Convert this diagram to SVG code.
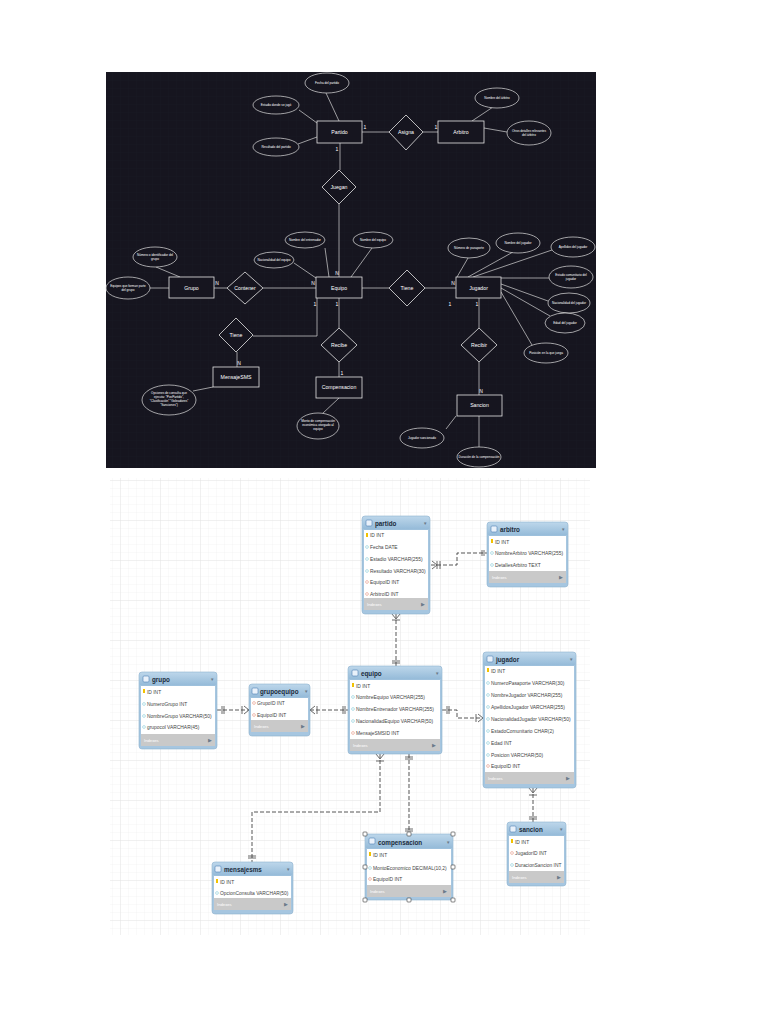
<svg xmlns="http://www.w3.org/2000/svg" width="768" height="1024" viewBox="0 0 768 1024">
<defs>
<pattern id="dg" width="8" height="8" patternUnits="userSpaceOnUse"><path d="M8 0H0V8" fill="none" stroke="#1d1c27" stroke-width="0.5"/></pattern>
<pattern id="lg" width="8" height="8" patternUnits="userSpaceOnUse"><path d="M8 0H0V8" fill="none" stroke="#ececec" stroke-width="0.5"/></pattern>
<pattern id="lgM" width="40" height="40" patternUnits="userSpaceOnUse"><path d="M40 0H0V40" fill="none" stroke="#d8d8d8" stroke-width="0.6"/></pattern>
<linearGradient id="hd" x1="0" y1="0" x2="0" y2="1"><stop offset="0" stop-color="#bcd6ea"/><stop offset="1" stop-color="#94bad8"/></linearGradient>
</defs>
<style>
text{font-family:"Liberation Sans",Arial,sans-serif}
.er rect.e{fill:#16151f;stroke:#e6e6e6;stroke-width:0.8}
.er polygon{fill:#16151f;stroke:#e6e6e6;stroke-width:0.8}
.er ellipse{fill:#16151f;stroke:#e0e0e0;stroke-width:0.7}
.et{fill:#fff;font-size:5.2px;text-anchor:middle}
.at{fill:#fff;font-size:3.1px;text-anchor:middle}
.card{fill:#fff;font-size:5px;text-anchor:middle}
.ln{stroke:#d6d6d6;stroke-width:0.7;fill:none}
.tb .fr{fill:#a6c6e0;stroke:#8fb1cf;stroke-width:0.6}
.tb .hdr{fill:url(#hd)}
.tb .bd{fill:#fff}
.tb .ft{fill:#c9c9c9}
.tn{font-size:6.3px;font-weight:bold;fill:#1a2a3a}
.rt{font-size:4.9px;fill:#444}
.ix{font-size:4.2px;fill:#fff}
.ic{fill:#e9f1fa;stroke:#4f7fb5;stroke-width:0.6}
.dd{fill:#6b7a89;font-size:4.5px}
.pk{fill:#f2c200}
.cy{fill:#fff;stroke:#6ec0d0;stroke-width:0.5}
.fk{fill:#fff;stroke:#e0806a;stroke-width:0.5}
.cn{stroke:#444;stroke-width:0.9;fill:none;stroke-dasharray:4 2}
.mk{stroke:#444;stroke-width:0.8;fill:none}
.hd2{fill:#fff;stroke:#333;stroke-width:0.6}
</style>

<!-- TOP ER DIAGRAM -->
<rect x="106" y="72" width="490" height="396" fill="#16151f"/>
<rect x="106" y="72" width="490" height="396" fill="url(#dg)"/>

<g id="er-lines">
<path class="ln" d="M362 132H389M423 132H438M340 143V170M339 204V277M214 288H227M263 288H316M150 288H169M362 288H389M425 288H456M339 298V328M339 362V377M317 298V336H253M237 352V367M479 298V328M479 362V395"/>
<path class="ln" d="M326 93L339 121M299 110L317 123M298 144L317 137M493 107L472 121M484 128L507 132M156 267L180 277M294 263L316 278M325 248L329 277M372 248L351 277M468 258L457 277M513 252L468 277M552 250L473 277M501 278H549M501 284L548 301M501 288L550 316M501 292L532 345M193 391L213 387M339 398L322 414M456 416L446 429M479 416V447"/>
</g>
<g id="er-cards">
<text class="card" x="365" y="129">1</text>
<text class="card" x="436" y="129">1</text>
<text class="card" x="337" y="151">1</text>
<text class="card" x="337" y="275">N</text>
<text class="card" x="217" y="285">N</text>
<text class="card" x="313" y="285">N</text>
<text class="card" x="315" y="306">1</text>
<text class="card" x="337" y="306">1</text>
<text class="card" x="239" y="365">N</text>
<text class="card" x="342" y="375">1</text>
<text class="card" x="453" y="285">N</text>
<text class="card" x="450" y="306">1</text>
<text class="card" x="477" y="306">1</text>
<text class="card" x="481" y="393">N</text>
</g>

<g class="er">
<g id="e-partido"><rect class="e" x="317" y="121" width="45" height="22"/><text class="et" x="339.5" y="134">Partido</text></g>
<g id="r-asigna"><polygon points="389,132 406,115 423,132 406,150"/><text class="et" x="406" y="134">Asigna</text></g>
<g id="e-arbitro"><rect class="e" x="438" y="121" width="46" height="22"/><text class="et" x="461" y="134">Arbitro</text></g>
<g id="r-juegan"><polygon points="322,187 339,170 356,187 339,204"/><text class="et" x="339" y="189">Juegan</text></g>
<g id="e-equipo"><rect class="e" x="316" y="277" width="46" height="21"/><text class="et" x="339" y="290">Equipo</text></g>
<g id="e-grupo"><rect class="e" x="169" y="277" width="45" height="21"/><text class="et" x="191.5" y="290">Grupo</text></g>
<g id="r-contener"><polygon points="227,288 245,272 263,288 245,304"/><text class="et" x="245" y="290">Contener</text></g>
<g id="r-tiene1"><polygon points="219,335 236,318 253,335 236,352"/><text class="et" x="236" y="337">Tiene</text></g>
<g id="e-mensaje"><rect class="e" x="213" y="367" width="46" height="20"/><text class="et" x="236" y="379">MensajeSMS</text></g>
<g id="r-recibe"><polygon points="321,345 339,328 357,345 339,362"/><text class="et" x="339" y="347">Recibe</text></g>
<g id="e-comp"><rect class="e" x="316" y="377" width="46" height="21"/><text class="et" x="339" y="389">Compensacion</text></g>
<g id="r-tiene2"><polygon points="389,288 407,270 425,288 407,306"/><text class="et" x="407" y="290">Tiene</text></g>
<g id="e-jugador"><rect class="e" x="456" y="277" width="45" height="21"/><text class="et" x="478.5" y="290">Jugador</text></g>
<g id="r-recibir"><polygon points="461,345 479,328 497,345 479,362"/><text class="et" x="479" y="347">Recibir</text></g>
<g id="e-sancion"><rect class="e" x="457" y="395" width="45" height="21"/><text class="et" x="479.5" y="407">Sancion</text></g>

<g id="a1"><ellipse cx="327" cy="83" rx="22" ry="10"/><text class="at" x="327" y="84">Fecha del partido</text></g>
<g id="a2"><ellipse cx="276" cy="105" rx="23" ry="9"/><text class="at" x="276" y="106">Estadio donde se jugó</text></g>
<g id="a3"><ellipse cx="276" cy="147" rx="23" ry="9"/><text class="at" x="276" y="148">Resultado del partido</text></g>
<g id="a4"><ellipse cx="497" cy="98" rx="22" ry="10"/><text class="at" x="497" y="99">Nombre del árbitro</text></g>
<g id="a5"><ellipse cx="529" cy="133" rx="22" ry="12"/><text class="at" x="529" y="132">Otros detalles relevantes</text><text class="at" x="529" y="136">del árbitro</text></g>
<g id="a6"><ellipse cx="155" cy="257" rx="22" ry="10"/><text class="at" x="155" y="256">Número o identificador del</text><text class="at" x="155" y="260">grupo</text></g>
<g id="a7"><ellipse cx="128" cy="288" rx="22" ry="11"/><text class="at" x="128" y="287">Equipos que forman parte</text><text class="at" x="128" y="291">del grupo</text></g>
<g id="a8"><ellipse cx="274" cy="260" rx="20" ry="8"/><text class="at" x="274" y="261">Nacionalidad del equipo</text></g>
<g id="a9"><ellipse cx="305" cy="240" rx="20" ry="8"/><text class="at" x="305" y="241">Nombre del entrenador</text></g>
<g id="a10"><ellipse cx="373" cy="240" rx="20" ry="8"/><text class="at" x="373" y="241">Nombre del equipo</text></g>
<g id="a11"><ellipse cx="469" cy="248" rx="21" ry="10"/><text class="at" x="469" y="249">Número de pasaporte</text></g>
<g id="a12"><ellipse cx="518" cy="243" rx="22" ry="10"/><text class="at" x="518" y="244">Nombre del jugador</text></g>
<g id="a13"><ellipse cx="573" cy="247" rx="22" ry="10"/><text class="at" x="573" y="248">Apellidos del jugador</text></g>
<g id="a14"><ellipse cx="571" cy="277" rx="22" ry="11"/><text class="at" x="571" y="276">Estado comunitario del</text><text class="at" x="571" y="280">jugador</text></g>
<g id="a15"><ellipse cx="569" cy="303" rx="21" ry="10"/><text class="at" x="569" y="304">Nacionalidad del jugador</text></g>
<g id="a16"><ellipse cx="565" cy="323" rx="20" ry="10"/><text class="at" x="565" y="324">Edad del jugador</text></g>
<g id="a17"><ellipse cx="546" cy="353" rx="22" ry="10"/><text class="at" x="546" y="354">Posición en la que juega</text></g>
<g id="a18"><ellipse cx="169" cy="400" rx="27" ry="15"/><text class="at" x="169" y="394">Opciones de consulta que</text><text class="at" x="169" y="398">ejecuta: "PosPartido",</text><text class="at" x="169" y="402">"Clasificación" "Goleadores"</text><text class="at" x="169" y="406">"Sanciones")</text></g>
<g id="a19"><ellipse cx="318" cy="426" rx="21" ry="13"/><text class="at" x="318" y="422">Monto de compensación</text><text class="at" x="318" y="426">económica otorgado al</text><text class="at" x="318" y="430">equipo</text></g>
<g id="a20"><ellipse cx="422" cy="438" rx="22" ry="10"/><text class="at" x="422" y="439">Jugador sancionado</text></g>
<g id="a21"><ellipse cx="479" cy="457" rx="22" ry="10"/><text class="at" x="479" y="458">Duración de la compensación</text></g>
</g>

<!-- BOTTOM WORKBENCH DIAGRAM -->
<rect x="110" y="478" width="480" height="457" fill="#fff"/>
<rect x="110" y="478" width="480" height="457" fill="url(#lg)"/>
<rect x="110" y="478" width="480" height="457" fill="url(#lgM)"/>

<g id="connectors">
<path class="cn" d="M431 565H457V553H487"/>
<path class="cn" d="M396 614V666"/>
<path class="cn" d="M217 710H249"/>
<path class="cn" d="M310 710H348"/>
<path class="cn" d="M442 710H457V718H483"/>
<path class="cn" d="M533 788V822"/>
<path class="cn" d="M409 754V834"/>
<path class="cn" d="M380 754V812H252V862"/>
<path class="mk" d="M432 561L437 565L432 569M437 561V569M440 561V569M482 550V556M484 550V556"/>
<path class="mk" d="M392 614L396 619L400 614M392 620H400M392 661H400M392 663H400"/>
<path class="mk" d="M244 706L249 710L244 714M242 706V714M222 706V714M224 706V714"/>
<path class="mk" d="M315 706L310 710L315 714M317 706V714M343 706V714M345 706V714"/>
<path class="mk" d="M478 714L483 718L478 722M476 714V722M447 706V714M449 706V714"/>
<path class="mk" d="M529 788L533 793L537 788M529 795H537M529 817H537M529 819H537"/>
<path class="mk" d="M376 754L380 759L384 754M376 761H384M405 757H413M405 759H413M405 829H413M405 831H413M248 856H256M248 858H256"/>
</g>

<g id="t-partido" class="tb">
<rect class="fr" x="362" y="516" width="68" height="98" rx="3"/>
<rect class="hdr" x="362.5" y="516.5" width="67" height="13" rx="2.5"/>
<rect class="ic" x="366" y="520" width="6" height="6" rx="1"/>
<text class="tn" x="375" y="526">partido</text><text class="dd" x="423" y="525">▼</text>
<rect class="bd" x="364" y="530" width="64" height="68"/>
<rect class="ft" x="364" y="598" width="64" height="12"/>
<text class="ix" x="367" y="606">Indexes</text><text class="dd" x="421" y="606">▶</text>
<rect class="pk" x="366" y="533" width="2" height="4"/><text class="rt" x="370" y="537">ID INT</text>
<circle class="cy" cx="367" cy="547" r="1.4"/><text class="rt" x="370" y="548.5">Fecha DATE</text>
<circle class="cy" cx="367" cy="559" r="1.4"/><text class="rt" x="370" y="560.5">Estadio VARCHAR(255)</text>
<circle class="cy" cx="367" cy="571" r="1.4"/><text class="rt" x="370" y="572.5">Resultado VARCHAR(30)</text>
<circle class="fk" cx="367" cy="582" r="1.4"/><text class="rt" x="370" y="583.5">EquipoID INT</text>
<circle class="fk" cx="367" cy="594" r="1.4"/><text class="rt" x="370" y="595.5">ArbitroID INT</text>
</g>

<g id="t-arbitro" class="tb">
<rect class="fr" x="487" y="522" width="81" height="65" rx="3"/>
<rect class="hdr" x="487.5" y="522.5" width="80" height="13" rx="2.5"/>
<rect class="ic" x="491" y="526" width="6" height="6" rx="1"/>
<text class="tn" x="500" y="532">arbitro</text><text class="dd" x="561" y="531">▼</text>
<rect class="bd" x="489" y="536" width="77" height="35"/>
<rect class="ft" x="489" y="571" width="77" height="12"/>
<text class="ix" x="492" y="579">Indexes</text><text class="dd" x="559" y="579">▶</text>
<rect class="pk" x="491" y="539" width="2" height="4"/><text class="rt" x="495" y="543.5">ID INT</text>
<circle class="cy" cx="492" cy="553" r="1.4"/><text class="rt" x="495" y="554.5">NombreArbitro VARCHAR(255)</text>
<circle class="cy" cx="492" cy="565" r="1.4"/><text class="rt" x="495" y="566.5">DetallesArbitro TEXT</text>
</g>

<g id="t-grupo" class="tb">
<rect class="fr" x="139" y="672" width="78" height="77" rx="3"/>
<rect class="hdr" x="139.5" y="672.5" width="77" height="13" rx="2.5"/>
<rect class="ic" x="143" y="676" width="6" height="6" rx="1"/>
<text class="tn" x="152" y="682">grupo</text><text class="dd" x="210" y="681">▼</text>
<rect class="bd" x="141" y="686" width="74" height="48"/>
<rect class="ft" x="141" y="734" width="74" height="12"/>
<text class="ix" x="144" y="742">Indexes</text><text class="dd" x="208" y="742">▶</text>
<rect class="pk" x="143" y="689" width="2" height="4"/><text class="rt" x="147" y="693.5">ID INT</text>
<circle class="cy" cx="144" cy="704" r="1.4"/><text class="rt" x="147" y="705.5">NumeroGrupo INT</text>
<circle class="cy" cx="144" cy="716" r="1.4"/><text class="rt" x="147" y="717.5">NombreGrupo VARCHAR(50)</text>
<circle class="cy" cx="144" cy="727" r="1.4"/><text class="rt" x="147" y="728.5">grupocol VARCHAR(45)</text>
</g>

<g id="t-grupoequipo" class="tb">
<rect class="fr" x="249" y="684" width="61" height="52" rx="3"/>
<rect class="hdr" x="249.5" y="684.5" width="60" height="13" rx="2.5"/>
<rect class="ic" x="252" y="688" width="6" height="6" rx="1"/>
<text class="tn" x="260" y="694">grupoequipo</text><text class="dd" x="304" y="693">▼</text>
<rect class="bd" x="251" y="698" width="57" height="22"/>
<rect class="ft" x="251" y="720" width="57" height="12"/>
<text class="ix" x="254" y="728">Indexes</text><text class="dd" x="301" y="728">▶</text>
<circle class="fk" cx="254" cy="703" r="1.4"/><text class="rt" x="257" y="704.5">GrupoID INT</text>
<circle class="fk" cx="254" cy="715" r="1.4"/><text class="rt" x="257" y="716.5">EquipoID INT</text>
</g>

<g id="t-equipo" class="tb">
<rect class="fr" x="348" y="666" width="94" height="88" rx="3"/>
<rect class="hdr" x="348.5" y="666.5" width="93" height="13" rx="2.5"/>
<rect class="ic" x="352" y="670" width="6" height="6" rx="1"/>
<text class="tn" x="361" y="676">equipo</text><text class="dd" x="435" y="675">▼</text>
<rect class="bd" x="350" y="680" width="90" height="59"/>
<rect class="ft" x="350" y="739" width="90" height="12"/>
<text class="ix" x="353" y="747">Indexes</text><text class="dd" x="432" y="747">▶</text>
<rect class="pk" x="352" y="683" width="2" height="4"/><text class="rt" x="356" y="687.5">ID INT</text>
<circle class="cy" cx="353" cy="697" r="1.4"/><text class="rt" x="356" y="698.5">NombreEquipo VARCHAR(255)</text>
<circle class="cy" cx="353" cy="709" r="1.4"/><text class="rt" x="356" y="710.5">NombreEntrenador VARCHAR(255)</text>
<circle class="cy" cx="353" cy="721" r="1.4"/><text class="rt" x="356" y="722.5">NacionalidadEquipo VARCHAR(50)</text>
<circle class="fk" cx="353" cy="733" r="1.4"/><text class="rt" x="356" y="734.5">MensajeSMSID INT</text>
</g>

<g id="t-jugador" class="tb">
<rect class="fr" x="483" y="652" width="93" height="136" rx="3"/>
<rect class="hdr" x="483.5" y="652.5" width="92" height="13" rx="2.5"/>
<rect class="ic" x="487" y="656" width="6" height="6" rx="1"/>
<text class="tn" x="496" y="662">jugador</text><text class="dd" x="569" y="661">▼</text>
<rect class="bd" x="485" y="666" width="89" height="106"/>
<rect class="ft" x="485" y="772" width="89" height="12"/>
<text class="ix" x="488" y="780">Indexes</text><text class="dd" x="566" y="780">▶</text>
<rect class="pk" x="487" y="668" width="2" height="4"/><text class="rt" x="491" y="672.5">ID INT</text>
<circle class="cy" cx="488" cy="683" r="1.4"/><text class="rt" x="491" y="684.5">NumeroPasaporte VARCHAR(30)</text>
<circle class="cy" cx="488" cy="695" r="1.4"/><text class="rt" x="491" y="696.5">NombreJugador VARCHAR(255)</text>
<circle class="cy" cx="488" cy="707" r="1.4"/><text class="rt" x="491" y="708.5">ApellidosJugador VARCHAR(255)</text>
<circle class="cy" cx="488" cy="719" r="1.4"/><text class="rt" x="491" y="720.5">NacionalidadJugador VARCHAR(50)</text>
<circle class="cy" cx="488" cy="731" r="1.4"/><text class="rt" x="491" y="732.5">EstadoComunitario CHAR(2)</text>
<circle class="cy" cx="488" cy="743" r="1.4"/><text class="rt" x="491" y="744.5">Edad INT</text>
<circle class="cy" cx="488" cy="755" r="1.4"/><text class="rt" x="491" y="756.5">Posicion VARCHAR(50)</text>
<circle class="fk" cx="488" cy="766" r="1.4"/><text class="rt" x="491" y="767.5">EquipoID INT</text>
</g>

<g id="t-sancion" class="tb">
<rect class="fr" x="507" y="822" width="59" height="64" rx="3"/>
<rect class="hdr" x="507.5" y="822.5" width="58" height="13" rx="2.5"/>
<rect class="ic" x="510" y="826" width="6" height="6" rx="1"/>
<text class="tn" x="519" y="832">sancion</text><text class="dd" x="559" y="831">▼</text>
<rect class="bd" x="509" y="836" width="55" height="35"/>
<rect class="ft" x="509" y="871" width="55" height="12"/>
<text class="ix" x="512" y="879">Indexes</text><text class="dd" x="557" y="879">▶</text>
<rect class="pk" x="511" y="839" width="2" height="4"/><text class="rt" x="515" y="843.5">ID INT</text>
<circle class="fk" cx="512" cy="853" r="1.4"/><text class="rt" x="515" y="854.5">JugadorID INT</text>
<circle class="cy" cx="512" cy="865" r="1.4"/><text class="rt" x="515" y="866.5">DuracionSancion INT</text>
</g>

<g id="t-compensacion" class="tb">
<rect class="fr" x="365" y="834" width="88" height="66" rx="3"/>
<rect class="hdr" x="365.5" y="834.5" width="87" height="14" rx="2.5"/>
<rect class="ic" x="369" y="838" width="6" height="6" rx="1"/>
<text class="tn" x="378" y="845">compensacion</text><text class="dd" x="446" y="844">▼</text>
<rect class="bd" x="367" y="849" width="84" height="36"/>
<rect class="ft" x="367" y="885" width="84" height="12"/>
<text class="ix" x="370" y="893">Indexes</text><text class="dd" x="443" y="893">▶</text>
<rect class="pk" x="369" y="852" width="2" height="4"/><text class="rt" x="373" y="856.5">ID INT</text>
<circle class="cy" cx="370" cy="868" r="1.4"/><text class="rt" x="373" y="869.5">MontoEconomico DECIMAL(10,2)</text>
<circle class="fk" cx="370" cy="879" r="1.4"/><text class="rt" x="373" y="880.5">EquipoID INT</text>
<rect class="hd2" x="363" y="832" width="4" height="4" rx="0.8"/><rect class="hd2" x="407" y="832" width="4" height="4" rx="0.8"/><rect class="hd2" x="451" y="832" width="4" height="4" rx="0.8"/>
<rect class="hd2" x="363" y="865" width="4" height="4" rx="0.8"/><rect class="hd2" x="451" y="865" width="4" height="4" rx="0.8"/>
<rect class="hd2" x="363" y="898" width="4" height="4" rx="0.8"/><rect class="hd2" x="407" y="898" width="4" height="4" rx="0.8"/><rect class="hd2" x="451" y="898" width="4" height="4" rx="0.8"/>
</g>

<g id="t-mensajesms" class="tb">
<rect class="fr" x="212" y="862" width="81" height="52" rx="3"/>
<rect class="hdr" x="212.5" y="862.5" width="80" height="13" rx="2.5"/>
<rect class="ic" x="215" y="866" width="6" height="6" rx="1"/>
<text class="tn" x="224" y="872">mensajesms</text><text class="dd" x="286" y="871">▼</text>
<rect class="bd" x="214" y="876" width="77" height="22"/>
<rect class="ft" x="214" y="898" width="77" height="12"/>
<text class="ix" x="217" y="906">Indexes</text><text class="dd" x="284" y="906">▶</text>
<rect class="pk" x="216" y="879" width="2" height="4"/><text class="rt" x="220" y="883.5">ID INT</text>
<circle class="cy" cx="217" cy="893" r="1.4"/><text class="rt" x="220" y="894.5">OpcionConsulta VARCHAR(50)</text>
</g>
</svg>
